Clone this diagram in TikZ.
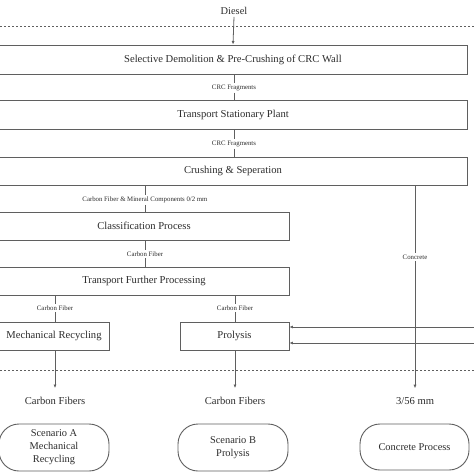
\documentclass[tikz,border=0pt]{standalone}
\usepackage{fontspec}
\setmainfont{Liberation Serif}
\usetikzlibrary{arrows.meta}
\definecolor{linegray}{RGB}{95,95,95}
\definecolor{textgray}{RGB}{45,45,45}
\begin{document}
\begin{tikzpicture}[x=1pt,y=-1pt,
  conn/.style={draw=linegray, line width=0.8pt},
  arr/.style={conn, -{Latex[length=3.5pt,width=3pt]}},
  dashline/.style={draw=linegray, line width=0.6pt, dash pattern=on 2pt off 2pt},
  box/.style={draw=linegray, line width=0.9pt, rectangle, inner sep=0pt, text=textgray, font=\fontsize{10.6}{12}\selectfont},
  pill/.style={draw=linegray, line width=0.9pt, rectangle, rounded corners=20pt, inner sep=0pt, text=textgray, align=center, font=\fontsize{10.4}{13}\selectfont},
  small/.style={inner sep=1.5pt, text=textgray, font=\fontsize{6.8}{8}\selectfont},
  outtext/.style={inner sep=0pt, text=textgray, font=\fontsize{10.6}{12}\selectfont}
]
\fill[white] (0,0) rectangle (474,474);
\useasboundingbox (0,0) rectangle (474,474);

% dashed system boundaries
\coordinate (d1l) at (0,26);
\coordinate (d1r) at (474,26);
\coordinate (d2l) at (0,370);
\coordinate (d2r) at (474,370);
\draw[dashline] (d1l) -- (d1r);
\draw[dashline] (d2l) -- (d2r);

% input
\node[outtext, font=\fontsize{10.4}{12}\selectfont] (diesel) at (234,11) {Diesel};

% main boxes
\node[box, minimum width=468pt, minimum height=29pt] (b1) at (233,59.5) {Selective Demolition \& Pre-Crushing of CRC Wall};
\node[box, minimum width=468pt, minimum height=29pt] (b2) at (233,114.5) {Transport Stationary Plant};
\node[box, minimum width=468pt, minimum height=28pt] (b3) at (233,171) {Crushing \& Seperation};
\node[box, minimum width=290pt, minimum height=28pt] (cls) at (144,226) {Classification Process};
\node[box, minimum width=290pt, minimum height=28pt] (tfp) at (144,281) {Transport Further Processing};
\node[box, minimum width=110pt, minimum height=28pt] (mech) at (54,336) {Mechanical Recycling};
\node[box, minimum width=109pt, minimum height=28pt] (pro) at (234.5,336) {Prolysis};

% small labels
\node[small] (l1) at (234,88) {CRC Fragments};
\node[small] (l2) at (234,144) {CRC Fragments};
\node[small] (l3) at (145,200) {Carbon Fiber \& Mineral Components 0/2 mm};
\node[small] (l4) at (145,254) {Carbon Fiber};
\node[small] (l5) at (55,308) {Carbon Fiber};
\node[small] (l6) at (235,308) {Carbon Fiber};
\node[small] (lc) at (415,257) {Concrete};

% outputs
\node[outtext] (o1) at (55,401) {Carbon Fibers};
\node[outtext] (o2) at (235,401) {Carbon Fibers};
\node[outtext] (o3) at (415,401) {3/56 mm};

% scenario pills
\node[pill, minimum width=110pt, minimum height=47pt] (sa) at (54,447.5) {Scenario A\\Mechanical\\Recycling};
\node[pill, minimum width=110pt, minimum height=47pt] (sb) at (233,447.5) {Scenario B\\Prolysis};
\node[pill, minimum width=109pt, minimum height=46pt] (sc) at (414.5,447) {Concrete Process};

% connectors
\draw[arr] (diesel.south) ++(0,2) -- (b1.north);
\draw[conn] (b1.south -| l1) -- (l1.north);
\draw[conn] (l1.south) -- (b2.north -| l1);
\draw[conn] (b2.south -| l2) -- (l2.north);
\draw[conn] (l2.south) -- (b3.north -| l2);
\draw[conn] (b3.south -| l3) -- (l3.north);
\draw[conn] (l3.south) -- (cls.north -| l3);
\draw[conn] (cls.south -| l4) -- (l4.north);
\draw[conn] (l4.south) -- (tfp.north -| l4);
\draw[conn] (tfp.south -| l5) -- (l5.north);
\draw[conn] (l5.south) -- (mech.north -| l5);
\draw[conn] (tfp.south -| l6) -- (l6.north);
\draw[conn] (l6.south) -- (pro.north -| l6);
\draw[conn] (b3.south -| lc) -- (lc.north);
\draw[arr, shorten >=9pt] (lc.south) -- (o3.north);
\draw[arr, shorten >=9pt] (mech.south -| o1) -- (o1.north);
\draw[arr, shorten >=9pt] (pro.south -| o2) -- (o2.north);

% inputs into pyrolysis from the right
\coordinate (r1) at (474,327);
\coordinate (r2) at (474,343);
\draw[arr] (r1) -- (r1 -| pro.east);
\draw[arr] (r2) -- (r2 -| pro.east);
\end{tikzpicture}
\end{document}
